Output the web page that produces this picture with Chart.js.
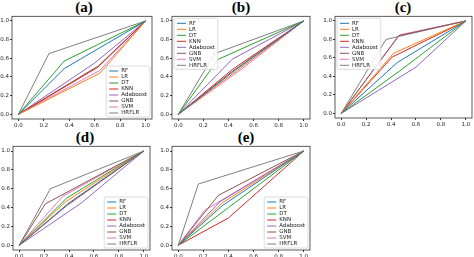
<!DOCTYPE html>
<html>
<head>
<meta charset="utf-8">
<script src="https://cdn.jsdelivr.net/npm/chart.js@4"></script>
<style>
body { margin: 0; background: #fff; width: 474px; height: 257px; position: relative; overflow: hidden; }
canvas { position: absolute; }
.t { position: absolute; font: bold 15px "Liberation Serif", serif; transform: translateX(-50%); line-height: 14px; color: #000; }
</style>
</head>
<body>
<div class="t" style="left:84px;top:0px">(a)</div>
<div class="t" style="left:241px;top:0px">(b)</div>
<div class="t" style="left:403px;top:0px">(c)</div>
<div class="t" style="left:85px;top:130px">(d)</div>
<div class="t" style="left:246px;top:130px">(e)</div>
<canvas id="ca"></canvas>
<canvas id="cb"></canvas>
<canvas id="cc"></canvas>
<canvas id="cd"></canvas>
<canvas id="ce"></canvas>
<script>
// 模型名称
const models = ['RF', 'LR', 'DT', 'KNN', 'Adaboost', 'GNB', 'SVM', 'HRFLR'];
const colors = ['#1f77b4', '#ff7f0e', '#2ca02c', '#d62728', '#9467bd', '#8c564b', '#e377c2', '#7f7f7f'];
const tickVals = [0.0, 0.2, 0.4, 0.6, 0.8, 1.0];

// 每个子图的拐点 (FPR, TPR)
const fprA = [0.36, 0.64, 0.36, 0.62, 0.60, 0.63, 0.64, 0.24];
const tprA = [0.49, 0.44, 0.57, 0.50, 0.55, 0.52, 0.47, 0.65];
const fprB = [0.45, 0.50, 0.32, 0.43, 0.43, 0.42, 0.50, 0.29];
const tprB = [0.47, 0.50, 0.59, 0.48, 0.59, 0.45, 0.48, 0.65];
const fprC = [0.45, 0.42, 0.47, 0.41, 0.60, 0.46, 0.47, 0.36];
const tprC = [0.55, 0.65, 0.46, 0.61, 0.50, 0.84, 0.85, 0.80];
const fprD = [0.40, 0.37, 0.38, 0.38, 0.50, 0.21, 0.35, 0.25];
const tprD = [0.45, 0.46, 0.50, 0.42, 0.45, 0.44, 0.52, 0.60];
const fprE = [0.35, 0.35, 0.40, 0.40, 0.33, 0.32, 0.21, 0.16];
const tprE = [0.42, 0.45, 0.40, 0.29, 0.46, 0.53, 0.37, 0.65];

// 外框
const framePlugin = {
    id: 'frame',
    afterDraw(chart) {
        const { ctx, chartArea: a } = chart;
        ctx.save();
        ctx.strokeStyle = '#333';
        ctx.lineWidth = 0.8;
        ctx.strokeRect(a.left, a.top, a.right - a.left, a.bottom - a.top);
        ctx.restore();
    }
};

// 图内图例 (matplotlib 风格)
const boxLegend = {
    id: 'boxLegend',
    afterDraw(chart, args, opts) {
        const { ctx, chartArea: a } = chart;
        const rowH = 6;
        ctx.save();
        ctx.font = '5.5px "DejaVu Sans"';
        let tw = 0;
        chart.data.datasets.forEach(d => { tw = Math.max(tw, ctx.measureText(d.label).width); });
        const w = 15 + tw + 3;
        const h = rowH * chart.data.datasets.length + 3;
        const x0 = opts.corner === 'ul' ? a.left + 2 : a.right - w - 2;
        const y0 = opts.corner === 'ul' ? a.top + 2 : a.bottom - h - 2;
        ctx.fillStyle = 'rgba(255,255,255,0.85)';
        ctx.strokeStyle = '#ccc';
        ctx.lineWidth = 0.7;
        ctx.beginPath();
        ctx.roundRect(x0, y0, w, h, 1.5);
        ctx.fill();
        ctx.stroke();
        ctx.textBaseline = 'middle';
        chart.data.datasets.forEach((d, i) => {
            const y = y0 + 2 + rowH * i + rowH / 2;
            ctx.strokeStyle = d.borderColor;
            ctx.lineWidth = 1;
            ctx.beginPath();
            ctx.moveTo(x0 + 3, y);
            ctx.lineTo(x0 + 12, y);
            ctx.stroke();
            ctx.fillStyle = '#222';
            ctx.fillText(d.label, x0 + 15, y);
        });
        ctx.restore();
    }
};

function makePanel(id, frame, fpr, tpr, corner) {
    const [l, r, t, b] = frame;
    const yw = 12, xh = 10, pt = 2, pr = 2;
    const cv = document.getElementById(id);
    cv.style.left = (l - yw) + 'px';
    cv.style.top = (t - pt) + 'px';
    cv.style.width = (r - l + yw + pr) + 'px';
    cv.style.height = (b - t + pt + xh) + 'px';
    cv.width = r - l + yw + pr;
    cv.height = b - t + pt + xh;

    const datasets = models.map((m, i) => ({
        label: m,
        data: [{ x: 0, y: 0 }, { x: fpr[i], y: tpr[i] }, { x: 1, y: 1 }],
        borderColor: colors[i],
        backgroundColor: colors[i],
        borderWidth: 1,
        pointRadius: 0,
        showLine: true
    }));

    const axis = (isY) => ({
        type: 'linear',
        min: -0.05,
        max: 1.05,
        afterBuildTicks: s => { s.ticks = tickVals.map(v => ({ value: v })); },
        afterFit: s => { if (isY) s.width = yw; else s.height = xh; },
        ticks: {
            font: { size: 5.5, family: 'DejaVu Sans' },
            color: '#222',
            padding: 1,
            maxRotation: 0,
            autoSkip: false,
            callback: v => v.toFixed(1)
        },
        grid: { drawOnChartArea: false, drawTicks: true, tickLength: 2, color: '#333' },
        border: { display: false }
    });

    new Chart(cv, {
        type: 'scatter',
        data: { datasets: datasets },
        options: {
            responsive: false,
            animation: false,
            devicePixelRatio: 1,
            layout: { padding: { top: pt, right: pr, left: 0, bottom: 0 } },
            scales: { x: axis(false), y: axis(true) },
            plugins: {
                legend: { display: false },
                tooltip: { enabled: false },
                boxLegend: { corner: corner }
            }
        },
        plugins: [framePlugin, boxLegend]
    });
}

makePanel('ca', [12, 152, 14, 119], fprA, tprA, 'lr');
makePanel('cb', [172, 310, 14, 119], fprB, tprB, 'ul');
makePanel('cc', [335, 472, 14, 118], fprC, tprC, 'ul');
makePanel('cd', [13, 150, 144, 250], fprD, tprD, 'lr');
makePanel('ce', [172, 310, 144, 250], fprE, tprE, 'lr');
</script>
</body>
</html>
